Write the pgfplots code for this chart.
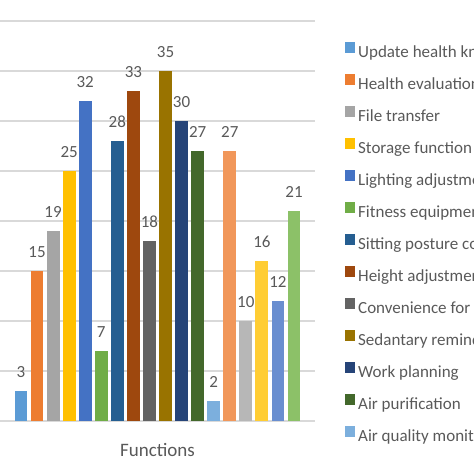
\documentclass[border=0pt]{standalone}
\usepackage{pgfplots}
\pgfplotsset{compat=1.18}
\usepackage{fontspec}
\setmainfont{Carlito}

% Office palette and its shades, one colour per function
\definecolor{c1}{HTML}{5B9BD5}
\definecolor{c2}{HTML}{ED7D31}
\definecolor{c3}{HTML}{A5A5A5}
\definecolor{c4}{HTML}{FFC000}
\definecolor{c5}{HTML}{4472C4}
\definecolor{c6}{HTML}{70AD47}
\definecolor{c7}{HTML}{255E91}
\definecolor{c8}{HTML}{9E480E}
\definecolor{c9}{HTML}{636363}
\definecolor{c10}{HTML}{997300}
\definecolor{c11}{HTML}{264478}
\definecolor{c12}{HTML}{43682B}
\definecolor{c13}{HTML}{7CAFDD}
\definecolor{c14}{HTML}{F1975A}
\definecolor{c15}{HTML}{B7B7B7}
\definecolor{c16}{HTML}{FFCD33}
\definecolor{c17}{HTML}{698ED0}
\definecolor{c18}{HTML}{8CC168}
\definecolor{gridgray}{HTML}{D9D9D9}
\definecolor{labgray}{HTML}{595959}

\begin{document}
\begin{tikzpicture}
\useasboundingbox (0bp,-53bp) rectangle (474bp,421bp);
\clip (0bp,-53bp) rectangle (474bp,421bp);
\begin{axis}[
  scale only axis, width=315bp, height=400bp,
  at={(0bp,0bp)}, anchor=south west,
  xmin=-1.307, xmax=18.307, ymin=0, ymax=40,
  ytick={0,5,...,40}, yticklabels={}, xtick=\empty,
  ymajorgrids, grid style={draw=gridgray, line width=1.2bp},
  axis line style={draw=none}, major tick length=0pt,
  /pgf/number format/assume math mode=true,
  ybar, bar width=12.8bp, bar shift=0pt,
  every axis plot/.append style={draw=none, bar shift=0pt},
  legend image code/.code={\fill[#1] (0bp,0bp) rectangle (10bp,10.5bp);},
  nodes near coords,
  nodes near coords style={font=\fontsize{17bp}{20bp}\selectfont, text=labgray,
    anchor=south, inner sep=0pt, yshift=13bp},
  xlabel={Functions},
  xlabel style={at={(axis description cs:0.5,0)}, anchor=base, yshift=-35bp,
    font=\fontsize{19bp}{22bp}\selectfont, text=labgray},
  legend style={at={(axis description cs:1.0952,0.9468)}, anchor=north west,
    draw=none, fill=none, inner sep=0pt, row sep=14bp, column sep=3bp,
    font=\fontsize{17bp}{20bp}\selectfont, text=labgray,
    nodes={inner sep=0pt, text height=12bp, text depth=3bp}},
  legend cell align=left,
]
\addplot[fill=c1]  coordinates {(0,3)};
\addplot[fill=c2]  coordinates {(1,15)};
\addplot[fill=c3]  coordinates {(2,19)};
\addplot[fill=c4]  coordinates {(3,25)};
\addplot[fill=c5]  coordinates {(4,32)};
\addplot[fill=c6]  coordinates {(5,7)};
\addplot[fill=c7]  coordinates {(6,28)};
\addplot[fill=c8]  coordinates {(7,33)};
\addplot[fill=c9]  coordinates {(8,18)};
\addplot[fill=c10] coordinates {(9,35)};
\addplot[fill=c11] coordinates {(10,30)};
\addplot[fill=c12] coordinates {(11,27)};
\addplot[fill=c13] coordinates {(12,2)};
\addplot[fill=c14] coordinates {(13,27)};
\addplot[fill=c15] coordinates {(14,10)};
\addplot[fill=c16] coordinates {(15,16)};
\addplot[fill=c17] coordinates {(16,12)};
\addplot[fill=c18] coordinates {(17,21)};
\legend{Update health knowledge, Health evaluation, File transfer,
  Storage function, Lighting adjustment, Fitness equipment,
  Sitting posture correction, Height adjustment, Convenience for use,
  Sedantary reminder, Work planning, Air purification,
  Air quality monitoring}
\end{axis}
\end{tikzpicture}
\end{document}
